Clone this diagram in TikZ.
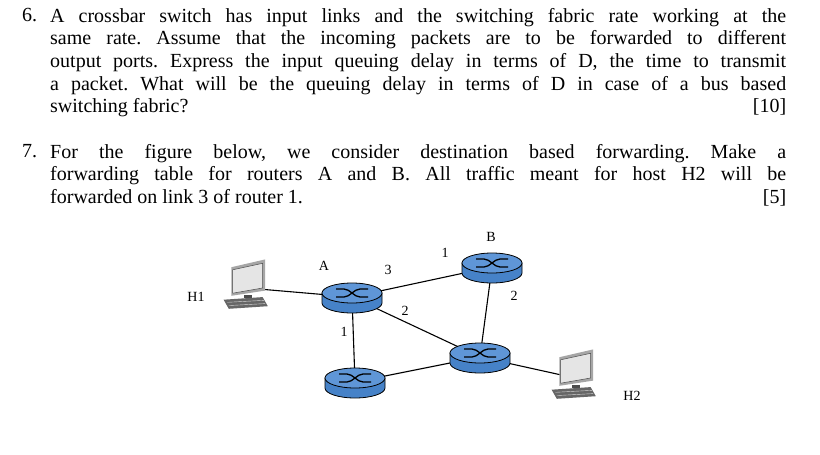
\documentclass[tikz,border=0pt]{standalone}
\usepackage{fontspec}
\setmainfont{Liberation Serif}
\frenchspacing
\begin{document}
\begin{tikzpicture}[x=1pt,y=-1pt,
  lbl/.style={font=\fontsize{14}{16}\selectfont, inner sep=0},
  para/.style={anchor=north west,inner sep=0,text width=736pt,align=justify,font=\fontsize{20}{22.6}\selectfont},
  num/.style={anchor=north west,inner sep=0,font=\fontsize{20}{22.6}\selectfont},
  link/.style={line width=1.1pt},
  router/.pic={
    \fill[fill={rgb,255:red,70;green,130;blue,200},draw=black,line width=0.8pt]
      (-30,-4) -- (-30,6) arc[start angle=180,end angle=0,x radius=30,y radius=10] -- (30,-4) -- cycle;
    \fill[fill={rgb,255:red,95;green,150;blue,215},draw=black,line width=0.8pt] (0,-4) ellipse[x radius=30,y radius=10];
    \draw[line width=1.3pt] (-16,-8) -- (-8,-8) .. controls (-2,-8) and (2,0) .. (8,0) -- (16,0);
    \draw[line width=1.3pt] (-16,0) -- (-8,0) .. controls (-2,0) and (2,-8) .. (8,-8) -- (16,-8);
  },
  pc/.pic={
    \begin{scope}[scale=1.3]
    \fill[gray!70] (-12,-16) -- (14,-22) -- (14,2) -- (-12,6) -- cycle;
    \fill[black!10,draw=black!70,line width=0.5pt] (-11,-14) -- (12,-19) -- (12,0) -- (-11,4) -- cycle;
    \fill[black!70] (-2,5) rectangle (4,8);
    \fill[black!60] (-18,9) -- (12,7) -- (16,14) -- (-14,16) -- cycle;
    \draw[white!70!gray,line width=0.4pt] (-15,11) -- (13,9.5) (-14,13.5) -- (14,12);
    \end{scope}
  }]
\useasboundingbox (0,0) rectangle (820,455);
\fill[white] (0,0) rectangle (820,455);
\node[num] (n6) at (22,8) {6.};
\node[para] (q6) at (50,8)
{A crossbar switch has input links and the switching fabric rate working at the\linebreak same rate. Assume that the incoming packets are to be forwarded to different\linebreak output ports. Express the input queuing delay in terms of D, the time to transmit\linebreak a packet. What will be the queuing delay in terms of D in case of a bus based\linebreak switching fabric?\hfill[10]};
\node[num] (n7) at (22,144) {7.};
\node[para] (q7) at (50,144)
{For the figure below, we consider destination based forwarding. Make a\linebreak forwarding table for routers A and B. All traffic meant for host H2 will be\linebreak forwarded on link 3 of router 1.\hfill[5]};
\coordinate (A) at (352,297);
\coordinate (B) at (492,267);
\coordinate (C) at (480,357);
\coordinate (D) at (355,382);
\coordinate (H1) at (247,288);
\coordinate (H2) at (575,378);
\draw[link] (H1) -- (A);
\draw[link] (A) -- (B);
\draw[link] (A) -- (C);
\draw[link] (A) -- (D);
\draw[link] (B) -- (C);
\draw[link] (D) -- (C);
\draw[link] (C) -- (H2);
\pic at (A) {router};
\pic at (B) {router};
\pic at (C) {router};
\pic at (D) {router};
\pic at (H1) {pc};
\pic at (H2) {pc};
\node[lbl] (la) at (324,266) {A};
\node[lbl] (lb) at (491,237) {B};
\node[lbl] (lh1) at (196,297) {H1};
\node[lbl] (lh2) at (632,396) {H2};
\node[lbl] (e1) at (388,270) {3};
\node[lbl] (e2) at (445,253) {1};
\node[lbl] (e3) at (405,311) {2};
\node[lbl] (e4) at (344,332) {1};
\node[lbl] (e5) at (514,296) {2};
\end{tikzpicture}
\end{document}
